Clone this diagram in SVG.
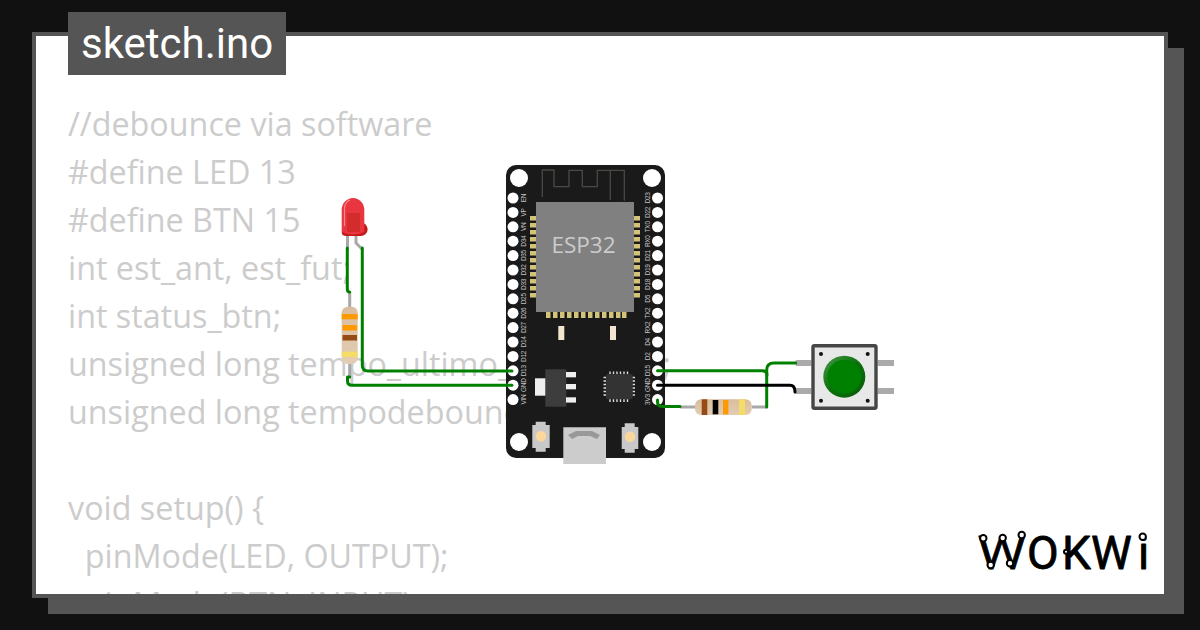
<svg xmlns="http://www.w3.org/2000/svg" width="1200" height="630" viewBox="0 0 1200 630">
<style>
.code{font-family:"Open Sans","Noto Sans",sans-serif;font-size:32.3px;fill:#ccc;white-space:pre}
.pin{font-family:"Liberation Sans",sans-serif;font-size:6.5px;letter-spacing:-.3px;fill:#c4c4c4;text-anchor:middle}
.w{fill:none;stroke:#008000;stroke-width:3;stroke-linecap:round;stroke-linejoin:round}
.k{fill:none;stroke:#000;stroke-width:3;stroke-linecap:round;stroke-linejoin:round}
.lead{fill:none;stroke:#a8a8a8;stroke-width:3}
.hole{fill:#fff}
.pad{fill:#d3c27a}
</style>
<defs>
<clipPath id="panel"><rect x="36" y="36" width="1128" height="558"/></clipPath>
<linearGradient id="rb" x1="0" x2="0" y1="0" y2="1"><stop offset="0" stop-color="#d9bd9e"/><stop offset="1" stop-color="#e3cdb4"/></linearGradient>
<linearGradient id="ring" x1="0" x2="1" y1="0" y2="1"><stop offset="0" stop-color="#4a9a4a"/><stop offset=".5" stop-color="#0a700a"/><stop offset="1" stop-color="#0a5a0a"/></linearGradient>
</defs>
<rect width="1200" height="630" fill="#111"/>
<rect x="48" y="48" width="1136" height="566" fill="#555"/>
<rect x="34" y="34" width="1132" height="562" fill="#fff" stroke="#555" stroke-width="4"/>
<g id="code" clip-path="url(#panel)">
<text class="code" x="68" y="136">//debounce via software</text>
<text class="code" x="68" y="184">#define LED 13</text>
<text class="code" x="68" y="232">#define BTN 15</text>
<text class="code" x="68" y="280">int est_ant, est_fut;</text>
<text class="code" x="68" y="328">int status_btn;</text>
<text class="code" x="68" y="376">unsigned long tempo_ultimo_debounce;</text>
<text class="code" x="68" y="424">unsigned long tempodebounce;</text>
<text class="code" x="68" y="520">void setup() {</text>
<text class="code" x="68" y="568">  pinMode(LED, OUTPUT);</text>
<text class="code" x="68" y="616">  pinMode(BTN, INPUT);</text>
</g>
<g id="tab">
<rect x="68" y="12" width="218" height="63" fill="#555"/>
<text x="81" y="58" font-family="Roboto,'Liberation Sans',sans-serif" font-size="42" fill="#fff">sketch.ino</text>
</g>
<g id="esp32">
<rect x="506" y="165" width="159" height="293" rx="10" fill="#1a1a1a"/>
<circle class="hole" cx="519" cy="178" r="9"/><circle class="hole" cx="652" cy="178" r="9"/>
<circle class="hole" cx="519" cy="442" r="9"/><circle class="hole" cx="652" cy="442" r="9"/>
<path d="M542.3 197V170H554V186.7H569V170.3H582.3V186.7H597.3V170.3H624.3V200.7M610.3 170.3V200" fill="none" stroke="#4a4a44" stroke-width="1.3"/>
<g class="pads">
<rect class="pad" x="530" y="216" width="6" height="4.5"/><rect class="pad" x="530" y="223" width="6" height="4.5"/><rect class="pad" x="530" y="230" width="6" height="4.5"/><rect class="pad" x="530" y="237" width="6" height="4.5"/><rect class="pad" x="530" y="244" width="6" height="4.5"/><rect class="pad" x="530" y="251" width="6" height="4.5"/><rect class="pad" x="530" y="258" width="6" height="4.5"/><rect class="pad" x="530" y="265" width="6" height="4.5"/><rect class="pad" x="530" y="272" width="6" height="4.5"/><rect class="pad" x="530" y="279" width="6" height="4.5"/><rect class="pad" x="530" y="286" width="6" height="4.5"/><rect class="pad" x="530" y="293" width="6" height="4.5"/>
<rect class="pad" x="634" y="216" width="6" height="4.5"/><rect class="pad" x="634" y="223" width="6" height="4.5"/><rect class="pad" x="634" y="230" width="6" height="4.5"/><rect class="pad" x="634" y="237" width="6" height="4.5"/><rect class="pad" x="634" y="244" width="6" height="4.5"/><rect class="pad" x="634" y="251" width="6" height="4.5"/><rect class="pad" x="634" y="258" width="6" height="4.5"/><rect class="pad" x="634" y="265" width="6" height="4.5"/><rect class="pad" x="634" y="272" width="6" height="4.5"/><rect class="pad" x="634" y="279" width="6" height="4.5"/><rect class="pad" x="634" y="286" width="6" height="4.5"/><rect class="pad" x="634" y="293" width="6" height="4.5"/>
<rect class="pad" x="546" y="312" width="4.5" height="6"/><rect class="pad" x="553" y="312" width="4.5" height="6"/><rect class="pad" x="560" y="312" width="4.5" height="6"/><rect class="pad" x="567" y="312" width="4.5" height="6"/><rect class="pad" x="574" y="312" width="4.5" height="6"/><rect class="pad" x="581" y="312" width="4.5" height="6"/><rect class="pad" x="588" y="312" width="4.5" height="6"/><rect class="pad" x="595" y="312" width="4.5" height="6"/><rect class="pad" x="602" y="312" width="4.5" height="6"/><rect class="pad" x="609" y="312" width="4.5" height="6"/><rect class="pad" x="616" y="312" width="4.5" height="6"/><rect class="pad" x="622" y="312" width="4.5" height="6"/>
</g>
<rect x="536" y="202" width="98" height="110" fill="#808080"/>
<text x="583.5" y="253" font-family="'Open Sans','Noto Sans',sans-serif" font-size="22.5" fill="#ccc" text-anchor="middle">ESP32</text>
<circle class="hole" cx="513" cy="198" r="5.5"/><circle class="hole" cx="513" cy="212.4" r="5.5"/><circle class="hole" cx="513" cy="226.8" r="5.5"/><circle class="hole" cx="513" cy="241.2" r="5.5"/><circle class="hole" cx="513" cy="255.6" r="5.5"/><circle class="hole" cx="513" cy="270" r="5.5"/><circle class="hole" cx="513" cy="284.4" r="5.5"/><circle class="hole" cx="513" cy="298.8" r="5.5"/><circle class="hole" cx="513" cy="313.2" r="5.5"/><circle class="hole" cx="513" cy="327.6" r="5.5"/><circle class="hole" cx="513" cy="342" r="5.5"/><circle class="hole" cx="513" cy="356.4" r="5.5"/><circle class="hole" cx="513" cy="370.8" r="5.5"/><circle class="hole" cx="513" cy="385.2" r="5.5"/><circle class="hole" cx="513" cy="399.6" r="5.5"/>
<circle class="hole" cx="657.5" cy="198" r="5.5"/><circle class="hole" cx="657.5" cy="212.4" r="5.5"/><circle class="hole" cx="657.5" cy="226.8" r="5.5"/><circle class="hole" cx="657.5" cy="241.2" r="5.5"/><circle class="hole" cx="657.5" cy="255.6" r="5.5"/><circle class="hole" cx="657.5" cy="270" r="5.5"/><circle class="hole" cx="657.5" cy="284.4" r="5.5"/><circle class="hole" cx="657.5" cy="298.8" r="5.5"/><circle class="hole" cx="657.5" cy="313.2" r="5.5"/><circle class="hole" cx="657.5" cy="327.6" r="5.5"/><circle class="hole" cx="657.5" cy="342" r="5.5"/><circle class="hole" cx="657.5" cy="356.4" r="5.5"/><circle class="hole" cx="657.5" cy="370.8" r="5.5"/><circle class="hole" cx="657.5" cy="385.2" r="5.5"/><circle class="hole" cx="657.5" cy="399.6" r="5.5"/>
<g class="labels-left">
<text class="pin" transform="translate(525.5 198) rotate(-90)">EN</text><text class="pin" transform="translate(525.5 212.4) rotate(-90)">VP</text><text class="pin" transform="translate(525.5 226.8) rotate(-90)">VN</text><text class="pin" transform="translate(525.5 241.2) rotate(-90)">D34</text><text class="pin" transform="translate(525.5 255.6) rotate(-90)">D35</text><text class="pin" transform="translate(525.5 270) rotate(-90)">D32</text><text class="pin" transform="translate(525.5 284.4) rotate(-90)">D33</text><text class="pin" transform="translate(525.5 298.8) rotate(-90)">D25</text><text class="pin" transform="translate(525.5 313.2) rotate(-90)">D26</text><text class="pin" transform="translate(525.5 327.6) rotate(-90)">D27</text><text class="pin" transform="translate(525.5 342) rotate(-90)">D14</text><text class="pin" transform="translate(525.5 356.4) rotate(-90)">D12</text><text class="pin" transform="translate(525.5 370.8) rotate(-90)">D13</text><text class="pin" transform="translate(525.5 385.2) rotate(-90)">GND</text><text class="pin" transform="translate(525.5 399.6) rotate(-90)">VIN</text>
</g>
<g class="labels-right">
<text class="pin" transform="translate(649.5 198) rotate(-90)">D23</text><text class="pin" transform="translate(649.5 212.4) rotate(-90)">D22</text><text class="pin" transform="translate(649.5 226.8) rotate(-90)">TX0</text><text class="pin" transform="translate(649.5 241.2) rotate(-90)">RX0</text><text class="pin" transform="translate(649.5 255.6) rotate(-90)">D21</text><text class="pin" transform="translate(649.5 270) rotate(-90)">D19</text><text class="pin" transform="translate(649.5 284.4) rotate(-90)">D18</text><text class="pin" transform="translate(649.5 298.8) rotate(-90)">D5</text><text class="pin" transform="translate(649.5 313.2) rotate(-90)">TX2</text><text class="pin" transform="translate(649.5 327.6) rotate(-90)">RX2</text><text class="pin" transform="translate(649.5 342) rotate(-90)">D4</text><text class="pin" transform="translate(649.5 356.4) rotate(-90)">D2</text><text class="pin" transform="translate(649.5 370.8) rotate(-90)">D15</text><text class="pin" transform="translate(649.5 385.2) rotate(-90)">GND</text><text class="pin" transform="translate(649.5 399.6) rotate(-90)">3V3</text>
</g>
<rect x="558.3" y="326" width="6" height="14" fill="#f3e6d0"/><rect x="610" y="326" width="6" height="14" fill="#f3e6d0"/>
<rect x="545.3" y="369.3" width="21" height="37.4" fill="#3d3d3d"/>
<rect x="535" y="378.3" width="10.3" height="17.4" fill="#eee"/>
<rect x="566" y="372" width="10" height="5.3" fill="#eee"/><rect x="566" y="384" width="10" height="5.3" fill="#eee"/><rect x="566" y="397.3" width="10" height="5.3" fill="#eee"/>
<rect x="606" y="374" width="26.7" height="25.3" rx="2" fill="#333"/>
<path d="M610 371.5V374M613.5 371.5V374M617 371.5V374M620.5 371.5V374M624 371.5V374M627.5 371.5V374M610 399.3V402M613.5 399.3V402M617 399.3V402M620.5 399.3V402M624 399.3V402M627.5 399.3V402M603.5 377.5H606M603.5 381H606M603.5 384.5H606M603.5 388H606M603.5 391.5H606M603.5 395H606M632.7 377.5H635M632.7 381H635M632.7 384.5H635M632.7 388H635M632.7 391.5H635M632.7 395H635" stroke="#ddd" stroke-width="1.4"/>
<path d="M535.7 421.7H545.7V425H549.7V448H545.7V451.7H535.7V448H532.3V425H535.7Z" fill="#c8c8c8"/><circle cx="541" cy="436.3" r="5.2" fill="#fcd79b"/>
<path d="M624.7 423.3H634.7V427H638.3V449H634.7V452.7H624.7V449H621.7V427H624.7Z" fill="#c8c8c8"/><circle cx="630" cy="436.7" r="5.2" fill="#fcd79b"/>
<path d="M563.3 427.3H606V464H563.3Z" fill="#ccc"/>
<path d="M568 435L576 431H592L600 435L597 439L590 436H578L572 439Z" fill="#999"/>
</g>
<g id="led">
<path d="M347.5 235V250M356 235V243L362 249" class="lead"/>
<path d="M345 222H360A8 8 0 0 1 367.7 229A7 7 0 0 1 360 236H346Q341.7 236 341.7 232Z" fill="#c41a1a"/>
<path d="M341.7 232V210A11.3 12 0 0 1 364.3 210V232Q353 237 341.7 232Z" fill="#e8353f"/>
<path d="M347 213H360V232H347Z" fill="#d42c2c"/>
<path d="M344.5 226V208Q345 202 350 200" fill="none" stroke="#f58a8a" stroke-width="1.2"/>
</g>
<g id="r1">
<path d="M349.7 292V307M349.7 364V377" class="lead"/>
<rect x="341.7" y="306.7" width="16" height="57.3" rx="6" fill="url(#rb)"/>
<rect x="341.7" y="314" width="16" height="5.3" fill="#f90"/>
<rect x="342.5" y="325" width="14.5" height="5.5" fill="#f90"/>
<rect x="342.5" y="335" width="14.5" height="5.5" fill="#964b14"/>
<rect x="341.7" y="351.7" width="16" height="5.3" fill="#f5dc64"/>
</g>
<g id="r2">
<path d="M680 407H695M751.7 407H767" class="lead"/>
<rect x="695" y="399.3" width="56.7" height="15.7" rx="6" fill="url(#rb)"/>
<rect x="701.7" y="399.3" width="5.6" height="15.7" fill="#964b14"/>
<rect x="712.7" y="400" width="5.6" height="14.3" fill="#000"/>
<rect x="723" y="400" width="5.4" height="14.3" fill="#f90"/>
<rect x="739" y="399.3" width="6" height="15.7" fill="#f5dc64"/>
</g>
<g id="btn">
<rect x="795.7" y="360" width="15.6" height="6" fill="#aaa"/><rect x="795.7" y="388" width="15.6" height="6" fill="#aaa"/>
<rect x="877.7" y="360" width="16.3" height="6" fill="#aaa"/><rect x="877.7" y="388" width="16.3" height="6" fill="#aaa"/>
<rect x="813" y="345.7" width="63" height="62.6" rx="1.5" fill="#e8e8e8" stroke="#464646" stroke-width="3.4"/>
<circle cx="821" cy="354" r="2" fill="#111"/><circle cx="867.7" cy="354" r="2" fill="#111"/><circle cx="821" cy="400.7" r="2" fill="#111"/><circle cx="867.7" cy="400.7" r="2" fill="#111"/>
<circle cx="844.3" cy="376.7" r="21" fill="url(#ring)"/>
<circle cx="844.3" cy="376.7" r="17" fill="#008000"/>
</g>
<g id="wires">
<path class="w" d="M347.3 248V289Q347.3 292 349.7 292"/>
<path class="w" d="M362.3 248V365Q362.3 371 368 371H512"/>
<path class="w" d="M349.7 377H347.5V381Q347.5 385.3 352 385.3H512"/>
<path class="w" d="M657.5 370.8H762Q767 370.8 767 375"/>
<path class="w" d="M795.7 363H774Q766.7 363 766.7 370V407"/>
<path class="k" d="M657.5 385.2H790Q795 385.2 795 392"/>
<path class="w" d="M657.5 400V402Q657.5 406.5 663 406.5H680"/>
</g>
<g id="logo">
<text y="569" font-family="Roboto,'Noto Sans',sans-serif" font-size="46" fill="#000" stroke="#000" stroke-width=".8" stroke-linejoin="round" x="978 1027 1062 1091 1138"><tspan font-family="Lato,sans-serif">W</tspan>OKWi</text>
<g fill="#fff" stroke="#000" stroke-width="2"><circle cx="983.3" cy="538.3" r="3.2"/><circle cx="1002.7" cy="538" r="3.2"/><circle cx="1021.7" cy="535" r="3.2"/><circle cx="990.7" cy="565" r="3.2"/><circle cx="1010" cy="563.3" r="3.2"/><circle cx="1066" cy="551.7" r="2"/><circle cx="1142.7" cy="536.7" r="3.2"/></g>
</g>
</svg>
